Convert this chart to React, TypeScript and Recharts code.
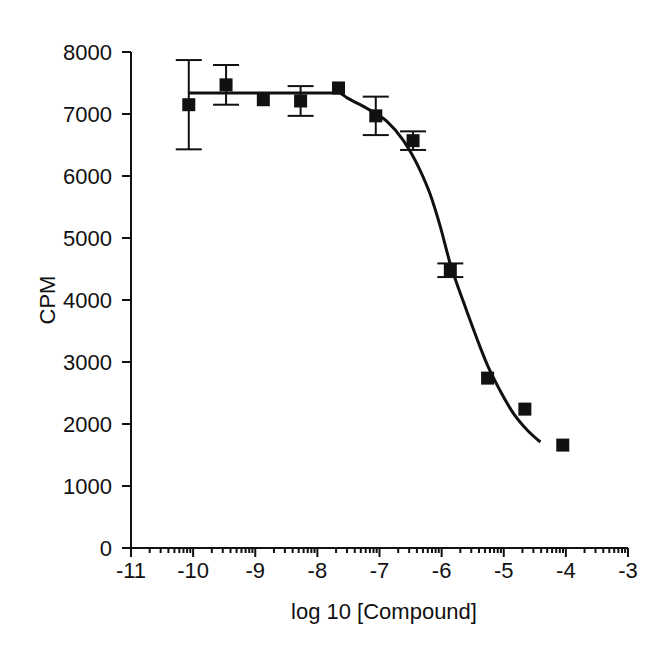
import React from "react";
import {
  ComposedChart,
  Line,
  Scatter,
  ErrorBar,
  XAxis,
  YAxis,
} from "recharts";

// measured points: log10 concentration, CPM, SEM
const logConc = [-10.07, -9.47, -8.87, -8.27, -7.66, -7.06, -6.46, -5.86, -5.26, -4.66, -4.05];
const cpm = [7150, 7470, 7230, 7210, 7420, 6970, 6570, 4480, 2740, 2240, 1660];
const sem = [720, 320, 0, 240, 0, 310, 150, 110, 0, 0, 0];

// fitted curve
const fitX = [-10.07, -7.65, -7.52, -7.2, -6.88, -6.62, -6.35, -6.19, -6.02, -5.86, -5.75, -5.62, -5.5, -5.38, -5.25, -5.06, -4.85, -4.62, -4.41];
const fitY = [7340, 7340, 7260, 7090, 6880, 6580, 6100, 5720, 5180, 4580, 4250, 3890, 3560, 3240, 2920, 2540, 2180, 1900, 1710];

const xMajor = [-11, -10, -9, -8, -7, -6, -5, -4, -3];
const minorOffsets = [0.301, 0.477, 0.602, 0.699, 0.778, 0.845, 0.903, 0.954];
const yTicks = [0, 1000, 2000, 3000, 4000, 5000, 6000, 7000, 8000];

const points = logConc.map((x, i) => ({ x, y: cpm[i], err: sem[i] }));
const fit = fitX.map((x, i) => ({ x, y: fitY[i] }));
const xTicks = [
  ...xMajor,
  ...xMajor.slice(0, -1).flatMap((d) => minorOffsets.map((o) => d + o)),
].sort((a, b) => a - b);

const FONT = "'Liberation Sans', Arial, sans-serif";
const INK = "#111";

const XTick = (props: any) => {
  const { x, y, payload } = props;
  const major = Number.isInteger(payload.value);
  return (
    <g>
      <line x1={x} y1={y} x2={x} y2={y + (major ? 9 : 5)} stroke={INK} strokeWidth={2} />
      {major && (
        <text x={x} y={y + 30} textAnchor="middle" fontSize={22} fontFamily={FONT} fill={INK}>
          {payload.value}
        </text>
      )}
    </g>
  );
};

const SquareDot = (props: any) => {
  const { cx, cy } = props;
  return <rect x={cx - 6.5} y={cy - 6.5} width={13} height={13} fill={INK} />;
};

export default function App() {
  return (
    <div style={{ position: "absolute", left: 0, top: 0, background: "#fff" }}>
      <ComposedChart width={650} height={653} margin={{ top: 52, right: 22, left: 0, bottom: 0 }}>
        <XAxis
          dataKey="x"
          type="number"
          domain={[-11, -3]}
          ticks={xTicks}
          interval={0}
          allowDataOverflow
          height={105}
          axisLine={{ stroke: INK, strokeWidth: 2 }}
          tickLine={false}
          tickSize={0}
          tickMargin={0}
          tick={<XTick />}
          label={{
            content: () => (
              <text x={384} y={619} textAnchor="middle" fontSize={22} fontFamily={FONT} fill={INK}>
                log 10 [Compound]
              </text>
            ),
          }}
        />
        <YAxis
          type="number"
          domain={[0, 8000]}
          ticks={yTicks}
          interval={0}
          width={131}
          axisLine={{ stroke: INK, strokeWidth: 2 }}
          tickLine={{ stroke: INK, strokeWidth: 2 }}
          tickSize={9}
          tickMargin={10}
          tick={{ fontSize: 22, fontFamily: FONT, fill: INK }}
          label={{
            content: () => (
              <text
                x={47}
                y={300}
                transform="rotate(-90 47 300)"
                textAnchor="middle"
                dominantBaseline="central"
                fontSize={22}
                fontFamily={FONT}
                fill={INK}
              >
                CPM
              </text>
            ),
          }}
        />
        <Line
          data={fit}
          dataKey="y"
          type="monotone"
          dot={false}
          stroke={INK}
          strokeWidth={3}
          isAnimationActive={false}
        />
        <Scatter data={points} dataKey="y" shape={<SquareDot />} isAnimationActive={false}>
          <ErrorBar dataKey="err" direction="y" width={13} stroke={INK} strokeWidth={2} />
        </Scatter>
      </ComposedChart>
    </div>
  );
}
